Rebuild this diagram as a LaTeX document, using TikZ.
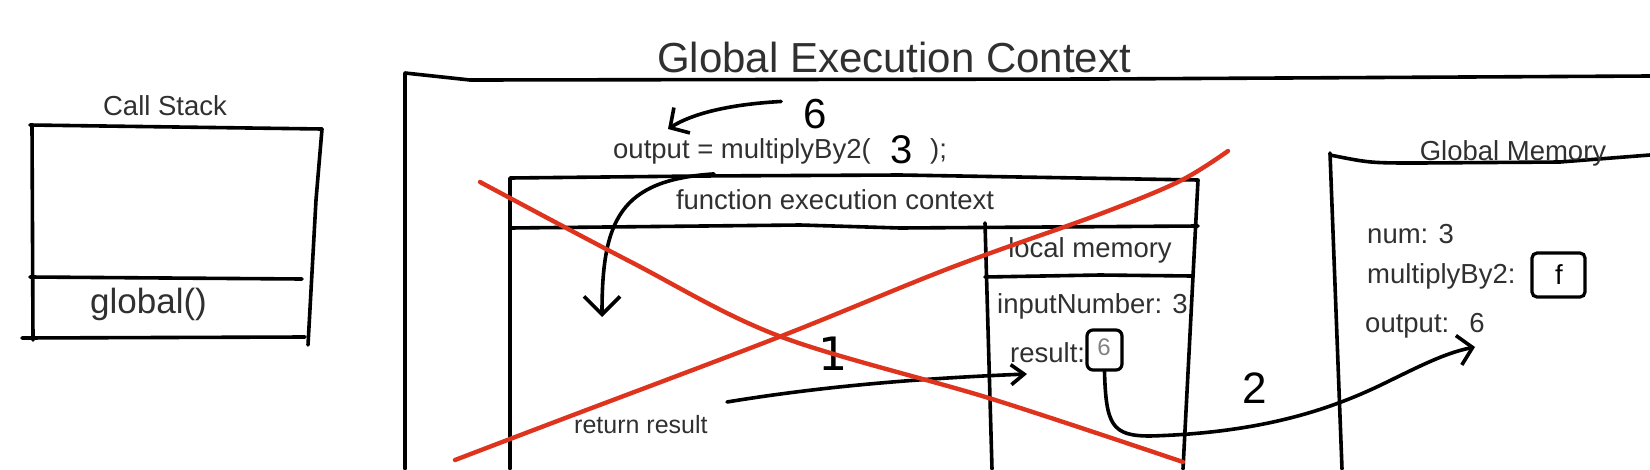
\documentclass[tikz,border=0pt]{standalone}
\usepackage{fontspec}
\setmainfont{Liberation Sans}
\newfontfamily\digitfont{DejaVu Sans}
\usetikzlibrary{arrows.meta}
\definecolor{crossred}{RGB}{222,52,30}
\definecolor{inkgray}{RGB}{48,48,48}
\definecolor{softgray}{RGB}{130,130,130}
\tikzset{
  ink/.style={line width=3.6pt, line cap=round, line join=round, draw=black},
  redink/.style={line width=4.4pt, line cap=round, line join=round, draw=crossred},
  lbl/.style={inner sep=0pt, text=inkgray, font=\fontsize{27.5}{30}\selectfont},
  handdigit/.style={inner sep=0pt, text=black},
  bigbarb/.style={-{Straight Barb[length=18pt,width=36pt]}},
  midbarb/.style={-{Straight Barb[length=14pt,width=30pt]}},
  smallbarb/.style={-{Straight Barb[length=13pt,width=20pt]}},
  valbox/.style={draw=black, line width=3.2pt, rounded corners=6pt, inner sep=0pt}
}
\begin{document}
\begin{tikzpicture}[x=1pt,y=-1pt]
\useasboundingbox (0,0) rectangle (1650,469);

% ---------------- Call stack ----------------
\node[lbl, anchor=base] (cstitle) at (165,115) {Call Stack};
\draw[ink] (30,125) -- (322,129);
\draw[ink] (32,125) -- (33,340);
\draw[ink] (322,129) -- (316,200) -- (308,345);
\draw[ink] (30,277) -- (302,279);
\draw[ink] (22,338) -- (305,337);
\node[lbl, anchor=base west, font=\fontsize{35}{38}\selectfont] (glob) at (90,313) {global()};

% ---------------- Global execution context ----------------
\node[lbl, anchor=base, font=\fontsize{42}{46}\selectfont] (gectitle) at (894,72) {Global Execution Context};
\draw[ink] (405,469) -- (405,73) -- (470,80) -- (1100,79) -- (1650,76);

% call line
\node[lbl, anchor=base west] (call) at (613,158) {output = multiplyBy2(};
\node[handdigit, anchor=base, font=\fontsize{40}{44}\selectfont] (callarg) at (902,163) {3};
\node[lbl, anchor=base west] (callend) at (930,158) {);};
\node[handdigit, anchor=base, font=\fontsize{42}{46}\selectfont] (six) at (815,128) {6};
\coordinate (outtop) at (668,129);
\draw[ink, midbarb] ([xshift=-22pt,yshift=-3pt]six.north west) .. controls (735,104) and (695,112) .. (outtop);

% ---------------- Function execution context ----------------
\draw[ink] (510,469) -- (510,178) -- (700,176) -- (900,175) -- (1198,180) -- (1183,469);
\draw[ink] (510,228) -- (800,225) -- (900,228) -- (1198,226);
\node[lbl, anchor=base] (fectitle) at (835,209) {function execution context};

\coordinate (fecin) at (602,317);
\draw[ink, bigbarb] ([shift={(-28,10)}]call.south) .. controls (620,180) and (602,220) .. (fecin);

% local memory column
\draw[ink] (985,223) -- (992,469);
\draw[ink] (985,277) -- (1100,275) -- (1192,276);
\node[lbl, anchor=base] (locmem) at (1090,257) {local memory};
\node[lbl, anchor=base west] (inpnum) at (997,313) {inputNumber: 3};
\node[lbl, anchor=base west] (reslbl) at (1010,362) {result:};
\node[valbox, minimum width=35pt, minimum height=40pt] (resbox) at (1104.5,350) {};
\node[inner sep=0pt, anchor=base, text=softgray, font=\fontsize{24}{26}\selectfont] (resval) at (1104,355) {6};

\node[lbl, anchor=base west, font=\fontsize{25}{28}\selectfont] (retres) at (574,433) {return result};
\coordinate (retstart) at (727,402);
\draw[ink, smallbarb] (retstart) .. controls (830,385) and (930,378) .. ([shift={(17,12)}]reslbl.base west);
\node[handdigit, anchor=base, font=\digitfont\fontsize{46}{50}\selectfont] (stepone) at (833,370) {1};

% ---------------- Global memory ----------------
\draw[ink] (1330,153) -- (1342,469);
\draw[ink] (1330,155) .. controls (1370,163) .. (1420,163) -- (1560,162) -- (1650,155);
\node[lbl, anchor=base] (gmtitle) at (1513,160) {Global Memory};
\node[lbl, anchor=base west] (gmnum) at (1367,243) {num: 3};
\node[lbl, anchor=base west] (gmmul) at (1367,283) {multiplyBy2:};
\node[valbox, minimum width=53pt, minimum height=44pt, rounded corners=5pt] (fbox) at (1558.5,275) {};
\node[lbl, anchor=base, text=black] (fval) at (1559,284) {f};
\node[lbl, anchor=base west] (gmout) at (1365,332) {output:\hspace{20pt}6};

\coordinate (outarrow) at (1475,347);
\draw[ink, midbarb] (resbox.south) .. controls (1106,425) and (1112,436) .. (1150,436)
   .. controls (1260,433) and (1330,410) .. (1385,383)
   .. controls (1420,366) and (1445,353) .. (outarrow);
\node[handdigit, anchor=base, font=\fontsize{44}{48}\selectfont] (steptwo) at (1255,403) {2};

% ---------------- red cross ----------------
\draw[redink] plot[smooth, tension=0.55] coordinates {(480,182) (631,262) (779,336) (992,399) (1183,462)};
\draw[redink] plot[smooth, tension=0.55] coordinates {(455,460) (560,420) (779,337) (950,268) (1100,214) (1180,181) (1228,151)};
\end{tikzpicture}
\end{document}
